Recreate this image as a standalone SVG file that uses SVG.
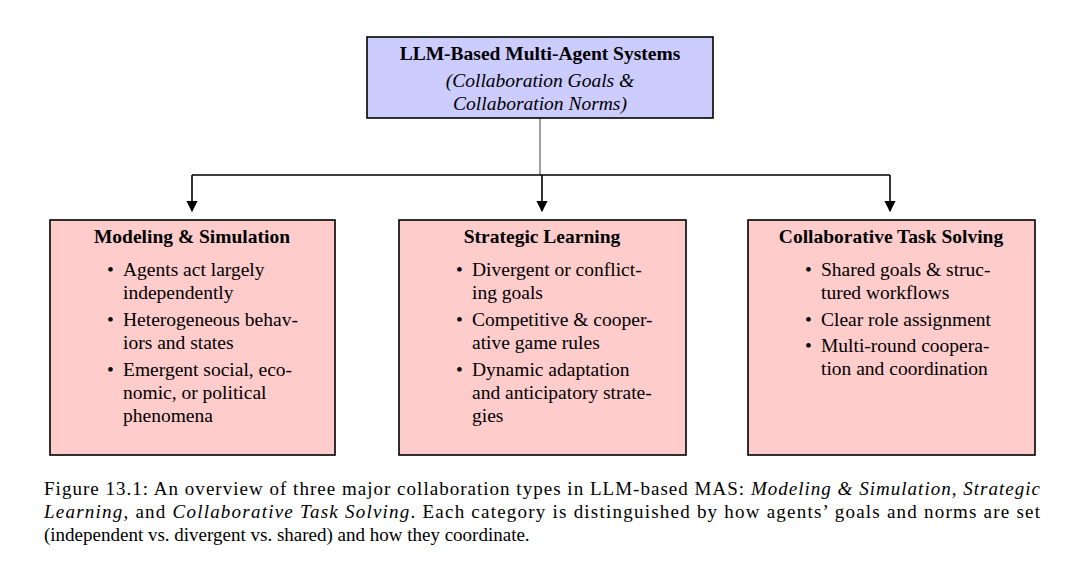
<svg xmlns="http://www.w3.org/2000/svg" width="1080" height="567" viewBox="0 0 1080 567">
<style>
text{font-family:"Liberation Serif","Times New Roman",serif;fill:#000}
.t{font-weight:bold;font-size:19.5px;text-anchor:middle}
.b{font-size:19.5px}
.c{font-size:19px}
.i{font-style:italic}
.box{fill:#ffcccc;stroke:#000;stroke-width:1.6}
</style>
<defs><marker id="a" viewBox="0 0 10 10" refX="9" refY="5" markerWidth="7" markerHeight="7" orient="auto"><path d="M0,0 L10,5 L0,10 z" fill="#000"/></marker></defs>
<rect width="1080" height="567" fill="#fff"/>
<g id="connectors" fill="none" stroke-width="1.6">
<path d="M540,118 V175" stroke="#888"/>
<path d="M192,175 H890" stroke="#000"/>
<path d="M192,175 V211" stroke="#000" marker-end="url(#a)"/>
<path d="M542,175 V211" stroke="#000" marker-end="url(#a)"/>
<path d="M890,175 V211" stroke="#000" marker-end="url(#a)"/>
</g>
<g id="root">
<rect x="367" y="37" width="346" height="81" fill="#ccccff" stroke="#000" stroke-width="1.6"/>
<text class="t" x="540" y="60">LLM-Based Multi-Agent Systems</text>
<text class="b i" x="540" y="87" text-anchor="middle">(Collaboration Goals &amp;</text>
<text class="b i" x="540" y="110" text-anchor="middle">Collaboration Norms)</text>
</g>
<g id="modeling">
<rect class="box" x="50" y="220" width="285" height="235"/>
<text class="t" x="192" y="243">Modeling &amp; Simulation</text>
<text class="b" x="107" y="276">•</text><text class="b" x="123" y="276">Agents act largely</text>
<text class="b" x="123" y="299">independently</text>
<text class="b" x="107" y="326">•</text><text class="b" x="123" y="326">Heterogeneous behav-</text>
<text class="b" x="123" y="349">iors and states</text>
<text class="b" x="107" y="376">•</text><text class="b" x="123" y="376">Emergent social, eco-</text>
<text class="b" x="123" y="399">nomic, or political</text>
<text class="b" x="123" y="422">phenomena</text>
</g>
<g id="strategic">
<rect class="box" x="399" y="220" width="287" height="235"/>
<text class="t" x="542" y="243">Strategic Learning</text>
<text class="b" x="456" y="276">•</text><text class="b" x="472" y="276">Divergent or conflict-</text>
<text class="b" x="472" y="299">ing goals</text>
<text class="b" x="456" y="326">•</text><text class="b" x="472" y="326">Competitive &amp; cooper-</text>
<text class="b" x="472" y="349">ative game rules</text>
<text class="b" x="456" y="376">•</text><text class="b" x="472" y="376">Dynamic adaptation</text>
<text class="b" x="472" y="399">and anticipatory strate-</text>
<text class="b" x="472" y="422">gies</text>
</g>
<g id="collab">
<rect class="box" x="748" y="220" width="287" height="235"/>
<text class="t" x="891" y="243">Collaborative Task Solving</text>
<text class="b" x="805" y="276">•</text><text class="b" x="821" y="276">Shared goals &amp; struc-</text>
<text class="b" x="821" y="299">tured workflows</text>
<text class="b" x="805" y="326">•</text><text class="b" x="821" y="326">Clear role assignment</text>
<text class="b" x="805" y="352">•</text><text class="b" x="821" y="352">Multi-round coopera-</text>
<text class="b" x="821" y="375">tion and coordination</text>
</g>
<g id="caption">
<text class="c" x="44" y="495" textLength="996" lengthAdjust="spacing">Figure 13.1: An overview of three major collaboration types in LLM-based MAS: <tspan class="i">Modeling &amp; Simulation</tspan>, <tspan class="i">Strategic</tspan></text>
<text class="c" x="44" y="518" textLength="996" lengthAdjust="spacing"><tspan class="i">Learning</tspan>, and <tspan class="i">Collaborative Task Solving</tspan>. Each category is distinguished by how agents’ goals and norms are set</text>
<text class="c" x="44" y="541">(independent vs. divergent vs. shared) and how they coordinate.</text>
</g>
</svg>
